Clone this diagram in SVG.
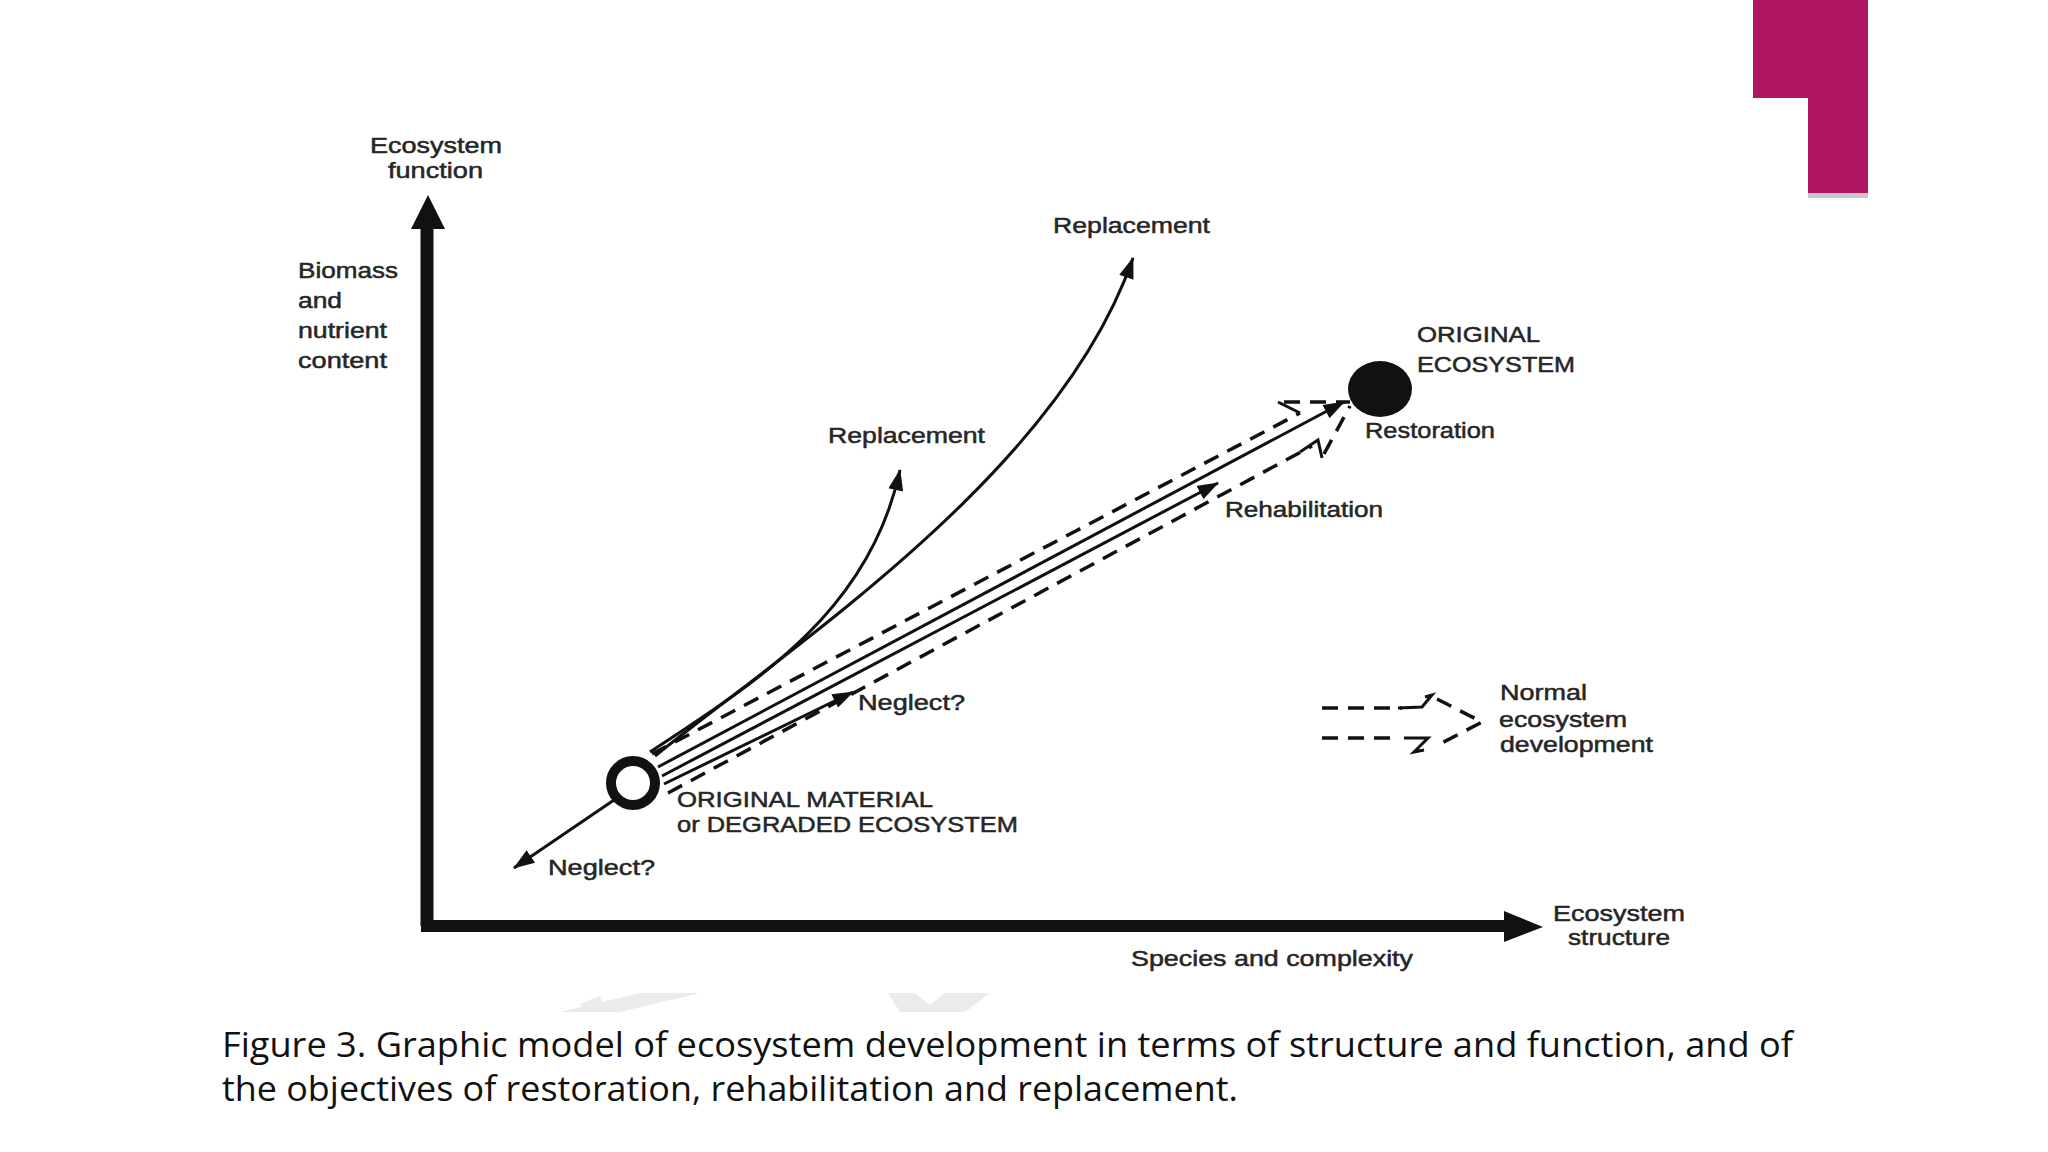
<svg xmlns="http://www.w3.org/2000/svg" width="2048" height="1152" viewBox="0 0 2048 1152">
<defs>
<style>
.t{font-family:"Liberation Sans",Arial,sans-serif;font-size:22px;fill:#262626;stroke:#262626;stroke-width:0.5}
.cap{font-family:"Open Sans","Noto Sans",sans-serif;font-size:35px;fill:#111}
.ln{fill:none;stroke:#111;stroke-width:3}
.ds{fill:none;stroke:#111;stroke-width:3.5;stroke-dasharray:16 10}
.wm{fill:#ebebeb}
</style>
<marker id="ah" viewBox="0 0 20 14" refX="19" refY="7" markerWidth="22" markerHeight="15" orient="auto" markerUnits="userSpaceOnUse"><path d="M0,0 L20,7 L0,14 Z" fill="#111"/></marker>
</defs>
<rect width="2048" height="1152" fill="#fff"/>
<g id="corner-mark">
<rect x="1808" y="190" width="60" height="8" fill="#c8c8c8"/>
<polygon points="1753,0 1868,0 1868,193 1808,193 1808,98 1753,98" fill="#b01562"/>
</g>
<g id="watermark">
<polygon class="wm" points="560,1012 640,993 700,993 620,1012"/>
<polygon class="wm" points="580,1004 600,996 606,1012 586,1012"/>
<polygon class="wm" points="888,993 915,993 930,1005 945,993 990,993 965,1012 900,1012"/>
</g>
<g id="axes">
<line x1="427" y1="926" x2="427" y2="222" stroke="#111" stroke-width="13"/>
<polygon points="428,195 411,229 445,229" fill="#111"/>
<line x1="421" y1="926" x2="1510" y2="926" stroke="#111" stroke-width="12"/>
<polygon points="1543,927 1504,911 1504,942" fill="#111"/>
</g>
<g id="connectors">
<path class="ln" d="M655,756 C800,640 1060,470 1133,258" marker-end="url(#ah)"/>
<path class="ln" d="M650,752 C760,680 870,610 900,470" marker-end="url(#ah)"/>
<path class="ds" d="M652,754 L1300,413"/>
<path class="ln" d="M1300,413 L1278,402"/>
<path class="ds" d="M1284,402 L1350,402"/>
<path class="ln" d="M658,767 L1344,402" marker-end="url(#ah)"/>
<path class="ln" d="M662,776 L1218,483" marker-end="url(#ah)"/>
<path class="ln" d="M664,784 L853,692" marker-end="url(#ah)"/>
<path class="ds" d="M668,793 L1312,446"/>
<path class="ln" d="M1300,452 L1318,440 L1322,458"/>
<path class="ds" d="M1324,454 L1350,406"/>
<path class="ln" d="M614,800 L514,868" marker-end="url(#ah)"/>
</g>
<g id="node-degraded">
<circle cx="633" cy="783" r="22" fill="#fff" stroke="#111" stroke-width="10"/>
<text class="t" x="677" y="807" textLength="256" lengthAdjust="spacingAndGlyphs">ORIGINAL MATERIAL</text>
<text class="t" x="677" y="832" textLength="341" lengthAdjust="spacingAndGlyphs">or DEGRADED ECOSYSTEM</text>
</g>
<g id="node-original">
<ellipse cx="1380" cy="389" rx="32" ry="28" fill="#111"/>
<text class="t" x="1417" y="342" textLength="123" lengthAdjust="spacingAndGlyphs">ORIGINAL</text>
<text class="t" x="1417" y="372" textLength="158" lengthAdjust="spacingAndGlyphs">ECOSYSTEM</text>
</g>
<g id="labels">
<text class="t" x="370" y="153" textLength="132" lengthAdjust="spacingAndGlyphs">Ecosystem</text>
<text class="t" x="388" y="178" textLength="95" lengthAdjust="spacingAndGlyphs">function</text>
<text class="t" x="298" y="278" textLength="100" lengthAdjust="spacingAndGlyphs">Biomass</text>
<text class="t" x="298" y="308" textLength="44" lengthAdjust="spacingAndGlyphs">and</text>
<text class="t" x="298" y="338" textLength="89" lengthAdjust="spacingAndGlyphs">nutrient</text>
<text class="t" x="298" y="368" textLength="89" lengthAdjust="spacingAndGlyphs">content</text>
<text class="t" x="1053" y="233" textLength="157" lengthAdjust="spacingAndGlyphs">Replacement</text>
<text class="t" x="828" y="443" textLength="157" lengthAdjust="spacingAndGlyphs">Replacement</text>
<text class="t" x="1365" y="438" textLength="130" lengthAdjust="spacingAndGlyphs">Restoration</text>
<text class="t" x="1225" y="517" textLength="158" lengthAdjust="spacingAndGlyphs">Rehabilitation</text>
<text class="t" x="858" y="710" textLength="107" lengthAdjust="spacingAndGlyphs">Neglect?</text>
<text class="t" x="548" y="875" textLength="107" lengthAdjust="spacingAndGlyphs">Neglect?</text>
<text class="t" x="1131" y="966" textLength="282" lengthAdjust="spacingAndGlyphs">Species and complexity</text>
<text class="t" x="1553" y="921" textLength="132" lengthAdjust="spacingAndGlyphs">Ecosystem</text>
<text class="t" x="1568" y="945" textLength="102" lengthAdjust="spacingAndGlyphs">structure</text>
</g>
<g id="legend">
<path class="ds" d="M1322,708 L1402,708"/>
<path class="ln" d="M1398,708 L1422,707 L1432,695 L1425,697"/>
<path class="ds" d="M1437,699 L1482,722 L1438,745"/>
<path class="ds" d="M1322,738 L1398,738"/>
<path class="ln" d="M1404,738 L1428,738 L1414,752 L1424,750"/>
<text class="t" x="1500" y="700" textLength="87" lengthAdjust="spacingAndGlyphs">Normal</text>
<text class="t" x="1499" y="727" textLength="128" lengthAdjust="spacingAndGlyphs">ecosystem</text>
<text class="t" x="1500" y="752" textLength="153" lengthAdjust="spacingAndGlyphs">development</text>
</g>
<g id="caption">
<text class="cap" x="222" y="1057" textLength="1571" lengthAdjust="spacingAndGlyphs">Figure 3. Graphic model of ecosystem development in terms of structure and function, and of</text>
<text class="cap" x="222" y="1101" textLength="1016" lengthAdjust="spacingAndGlyphs">the objectives of restoration, rehabilitation and replacement.</text>
</g>
</svg>
